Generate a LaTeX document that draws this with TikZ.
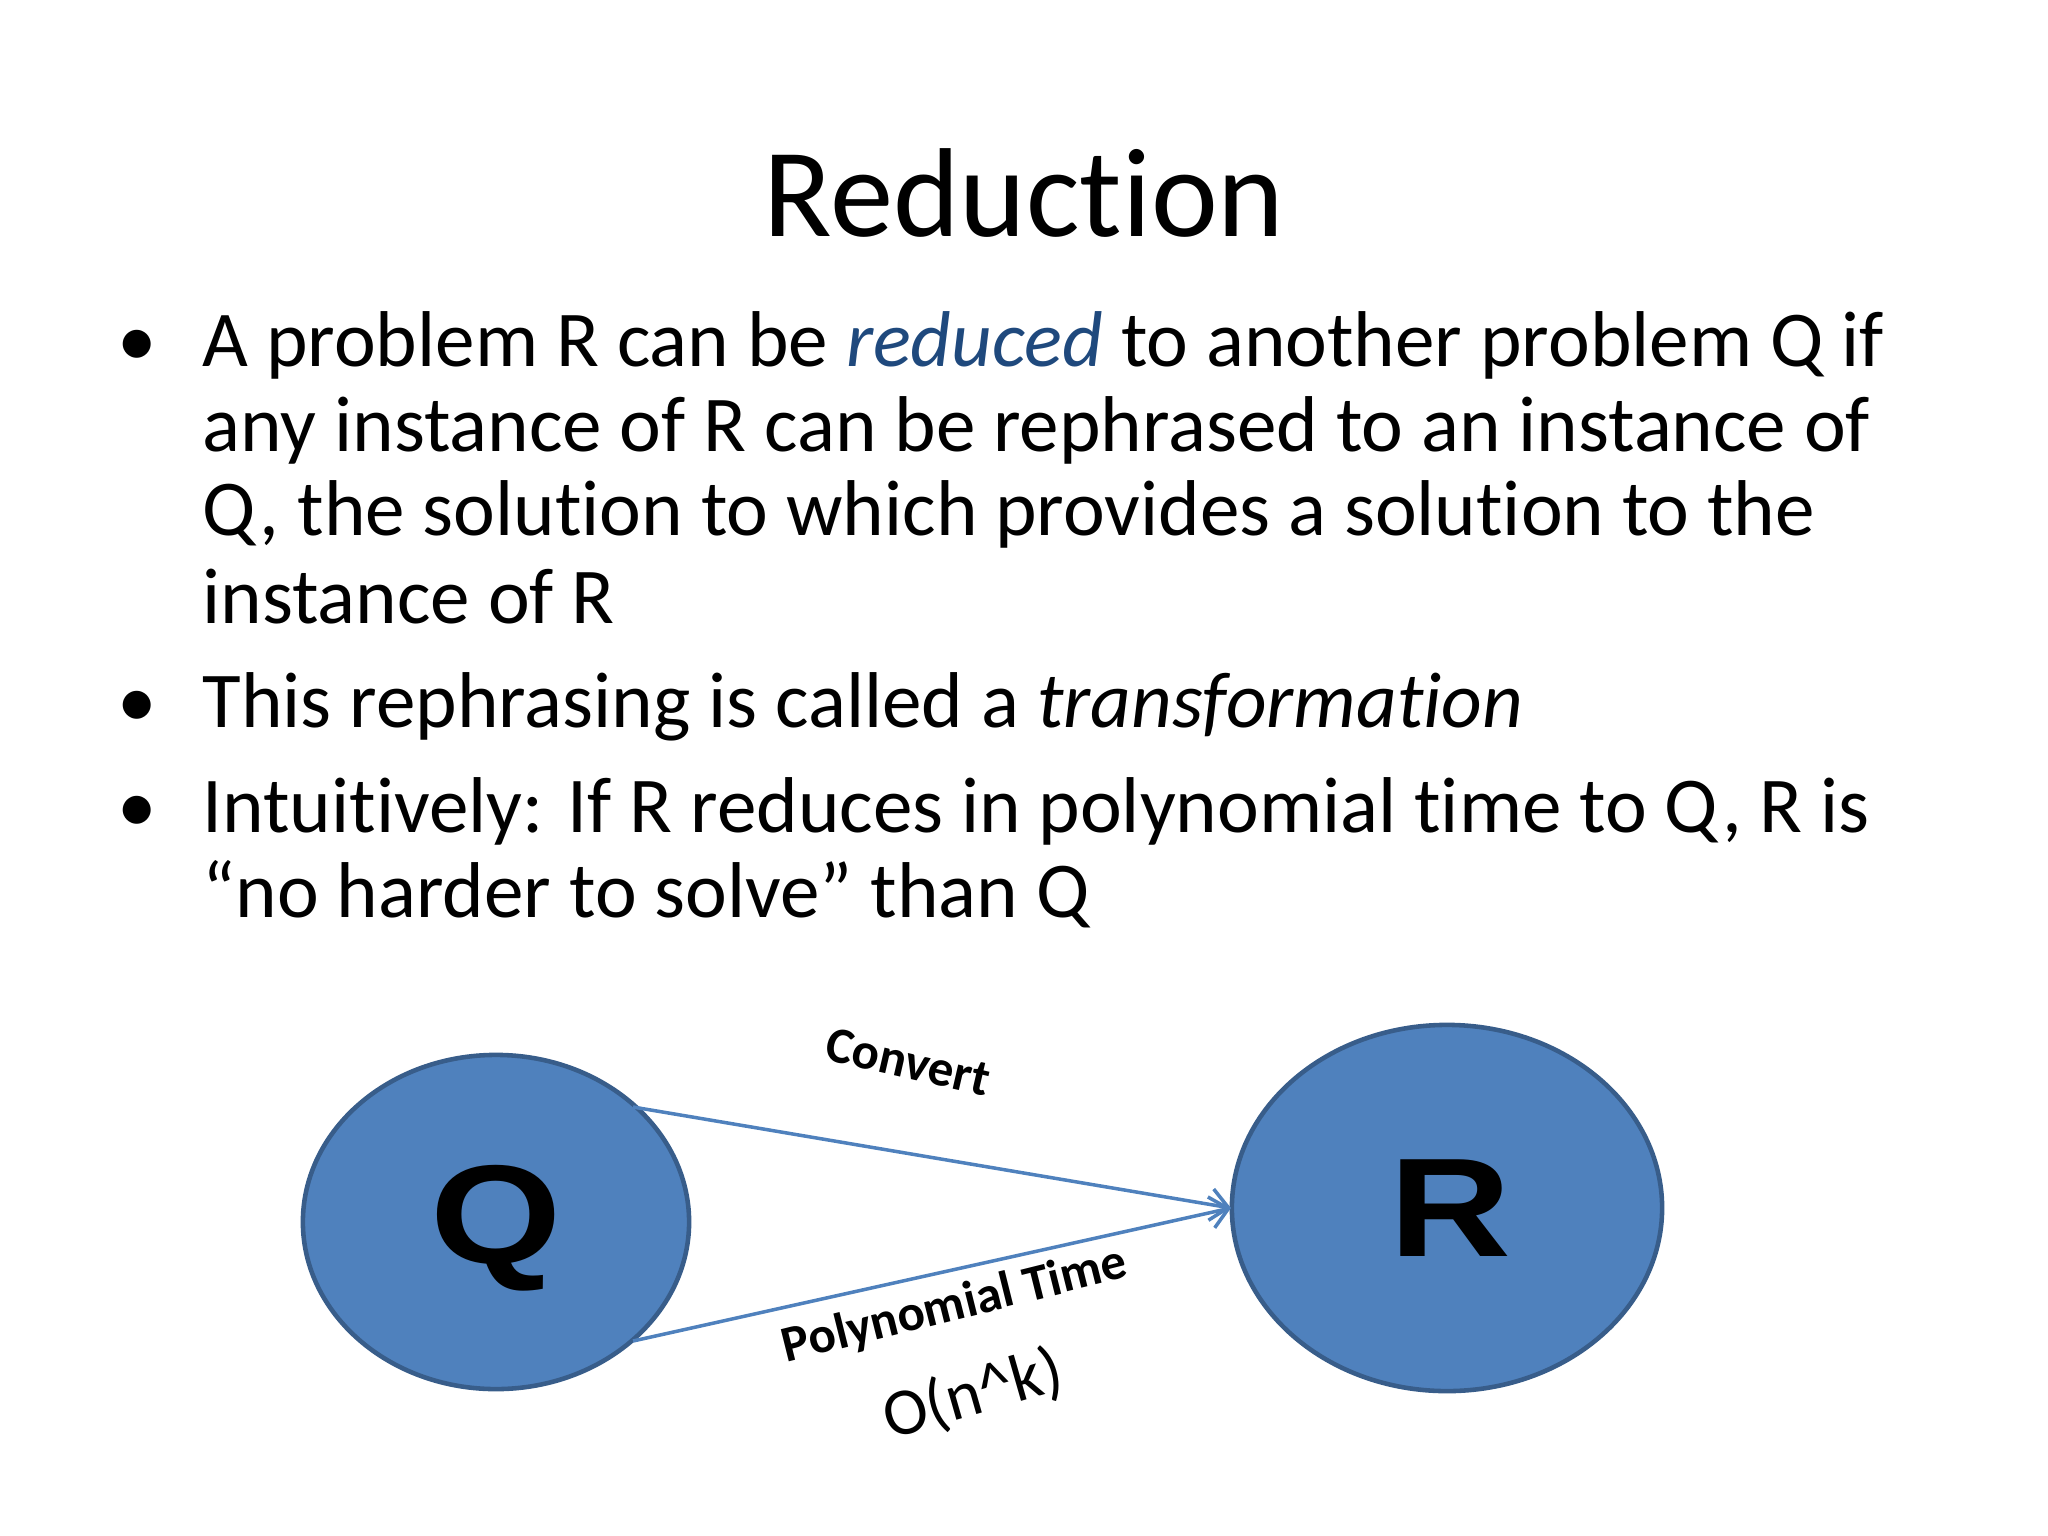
\documentclass[tikz,border=0pt]{standalone}
\usepackage{fontspec}
\setmainfont[Ligatures=NoCommon]{Carlito}
\newfontfamily\heavy{Liberation Sans}
\usetikzlibrary{shapes.geometric,arrows.meta}
\definecolor{fillb}{HTML}{4F81BD}
\definecolor{edgeb}{HTML}{385D8A}
\definecolor{redblue}{HTML}{1F497D}
\tikzset{
 body/.style={anchor=base west,inner sep=0pt,font=\fontsize{22.5}{27}\selectfont},
 blob/.style={ellipse,fill=fillb,draw=edgeb,line width=1.3pt,inner sep=0pt},
 conn/.style={draw=fillb,line width=1pt,-{Straight Barb[length=5pt,width=9pt]}},
 lbl/.style={inner sep=0pt,font=\bfseries\fontsize{14.5}{18}\selectfont}
}
\begin{document}
\begin{tikzpicture}[x=0.01cm,y=-0.01cm]
\useasboundingbox (0,0) rectangle (2048,1536);
\node[inner sep=0pt,font=\fontsize{36}{42}\selectfont] (title) at (1024,193) {Reduction};
\foreach \y/\n in {366/b1,727/b2,832/b3}{
 \node[body,anchor=base] (\n) at (137,\y) {\textbullet};}
\node[body] (l1) at (202,366) {A problem R can be \textcolor{redblue}{\itshape reduced} to another problem Q if};
\node[body] (l2) at (202,451) {any instance of R can be rephrased to an instance of};
\node[body] (l3) at (202,535) {Q, the solution to which provides a solution to the};
\node[body] (l4) at (202,623) {instance of R};
\node[body] (l5) at (202,727) {This rephrasing is called a \textit{transformation}};
\node[body] (l6) at (202,832) {Intuitively: If R reduces in polynomial time to Q, R is};
\node[body] (l7) at (202,917) {“no harder to solve” than Q};
\node[blob,minimum width=3.86cm,minimum height=3.34cm] (Q) at (496,1222) {};
\node[blob,minimum width=4.3cm,minimum height=3.66cm] (R) at (1447,1208) {};
\node[font=\heavy\bfseries\fontsize{40}{46}\selectfont,xscale=1.2] (qt) at (496,1228) {Q};
\node[font=\heavy\bfseries\fontsize{40}{46}\selectfont,xscale=1.2] (rt) at (1450,1208) {R};
\coordinate (qa) at (633,1107);
\coordinate (qb) at (633,1341);
\coordinate (rr) at (1231,1208);
\draw[conn] (qa) -- (rr);
\draw[conn] (qb) -- (rr);
\node[lbl,rotate=-13] (cv) at (908,1062) {Convert};
\node[lbl,rotate=14] (pt) at (955,1306) {Polynomial Time};
\node[inner sep=0pt,font=\fontsize{19}{23}\selectfont,rotate=16] (on) at (973,1395) {O(n\^{}k)};
\end{tikzpicture}
\end{document}
